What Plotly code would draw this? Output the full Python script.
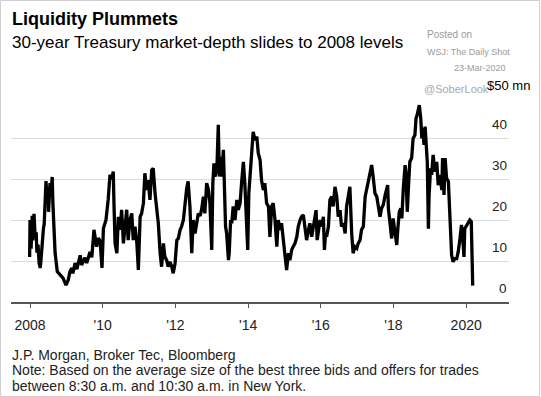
import plotly.graph_objects as go

# ---- data ----
years = [
    2007.99, 2008.00, 2008.03, 2008.06, 2008.08, 2008.11, 2008.14, 2008.17, 2008.19, 2008.22,
    2008.25, 2008.28, 2008.30, 2008.33, 2008.37, 2008.39, 2008.41, 2008.44, 2008.47, 2008.50,
    2008.51, 2008.54, 2008.55, 2008.58, 2008.61, 2008.63, 2008.69, 2008.75, 2008.83, 2008.91,
    2008.99, 2009.05, 2009.10, 2009.15, 2009.18, 2009.24, 2009.29, 2009.38, 2009.42, 2009.51,
    2009.56, 2009.65, 2009.70, 2009.76, 2009.83, 2009.88, 2009.93, 2009.98, 2010.02, 2010.09,
    2010.15, 2010.20, 2010.25, 2010.29, 2010.31, 2010.34, 2010.39, 2010.43, 2010.48, 2010.52,
    2010.57, 2010.61, 2010.66, 2010.70, 2010.75, 2010.80, 2010.84, 2010.89, 2010.94, 2010.98,
    2011.03, 2011.07, 2011.12, 2011.16, 2011.21, 2011.25, 2011.30, 2011.35, 2011.39, 2011.44,
    2011.49, 2011.53, 2011.58, 2011.62, 2011.67, 2011.71, 2011.76, 2011.80, 2011.85, 2011.90,
    2011.94, 2011.99, 2012.04, 2012.08, 2012.13, 2012.17, 2012.22, 2012.26, 2012.31, 2012.35,
    2012.40, 2012.45, 2012.49, 2012.54, 2012.59, 2012.63, 2012.68, 2012.72, 2012.77, 2012.81,
    2012.86, 2012.91, 2012.95, 2013.00, 2013.03, 2013.06, 2013.09, 2013.14, 2013.18, 2013.21,
    2013.25, 2013.27, 2013.32, 2013.35, 2013.38, 2013.41, 2013.46, 2013.48, 2013.52, 2013.55,
    2013.59, 2013.64, 2013.69, 2013.73, 2013.78, 2013.82, 2013.87, 2013.91, 2013.96, 2013.99,
    2014.02, 2014.05, 2014.10, 2014.14, 2014.19, 2014.24, 2014.28, 2014.33, 2014.37, 2014.42,
    2014.46, 2014.51, 2014.56, 2014.60, 2014.65, 2014.69, 2014.74, 2014.79, 2014.83, 2014.88,
    2014.92, 2014.97, 2015.02, 2015.06, 2015.11, 2015.15, 2015.20, 2015.24, 2015.29, 2015.34,
    2015.38, 2015.43, 2015.47, 2015.52, 2015.57, 2015.61, 2015.66, 2015.70, 2015.75, 2015.79,
    2015.84, 2015.87, 2015.90, 2015.93, 2015.98, 2016.03, 2016.07, 2016.10, 2016.13, 2016.16,
    2016.21, 2016.25, 2016.30, 2016.34, 2016.39, 2016.44, 2016.48, 2016.53, 2016.57, 2016.62,
    2016.67, 2016.71, 2016.76, 2016.80, 2016.85, 2016.89, 2016.94, 2016.99, 2017.03, 2017.08,
    2017.12, 2017.17, 2017.22, 2017.26, 2017.31, 2017.35, 2017.40, 2017.44, 2017.49, 2017.54,
    2017.58, 2017.63, 2017.67, 2017.72, 2017.77, 2017.81, 2017.84, 2017.86, 2017.90, 2017.95,
    2017.99, 2018.04, 2018.09, 2018.12, 2018.16, 2018.20, 2018.23, 2018.27, 2018.32, 2018.34,
    2018.38, 2018.41, 2018.45, 2018.50, 2018.54, 2018.59, 2018.62, 2018.65, 2018.68, 2018.71,
    2018.75, 2018.78, 2018.80, 2018.84, 2018.87, 2018.89, 2018.93, 2018.96, 2018.98, 2019.02,
    2019.05, 2019.09, 2019.14, 2019.19, 2019.23, 2019.28, 2019.33, 2019.35, 2019.39, 2019.42,
    2019.46, 2019.51, 2019.55, 2019.60, 2019.64, 2019.69, 2019.74, 2019.78, 2019.83, 2019.87,
    2019.90, 2019.94, 2019.96, 2020.01, 2020.05, 2020.10, 2020.14, 2020.18,
]
depth_mn = [
    11, 20, 13, 21, 15, 21.5, 16, 17, 12, 14,
    9.5, 8.3, 10, 14, 18, 19, 26, 29.5, 25, 28,
    22, 27, 29, 26, 30.5, 24, 12, 7.4, 6.6, 5.8,
    4.1, 5.3, 7.5, 8.3, 7, 9.5, 8, 11.4, 9, 10.8,
    9.5, 12.2, 10.9, 17.6, 13.5, 15.6, 14.8, 8.3, 18, 20,
    24.9, 31, 30, 31.8, 24, 14.3, 11.9, 20.8, 17.6, 22.5,
    14.3, 19.2, 22.5, 15.1, 20, 21.6, 15.1, 18.4, 14.3, 7.8,
    20.8, 21.6, 24.1, 31.4, 27.3, 29.7, 24.9, 32.2, 32.6, 26.5,
    21.6, 19.2, 11.9, 8.6, 14.3, 11, 10.2, 8.6, 9.8, 8.6,
    7.0, 9.4, 15.1, 15.5, 17.6, 18.4, 20, 24.1, 27.7, 29.4,
    23.3, 11.9, 20, 16.7, 20, 21.6, 21, 22.5, 25.7, 21.6,
    29, 27.3, 24.1, 12.7, 29, 33.8, 30.6, 32.2, 43.2, 30.6,
    35.4, 30.6, 37.1, 29.7, 18.4, 16.7, 10.2, 11.9, 20, 19.2,
    23.3, 20, 24.9, 22.5, 24.1, 29, 34.2, 29, 19.2, 12.7,
    26.5, 30.6, 37.9, 41.5, 39.5, 40.3, 36.3, 34.6, 29.7, 27.3,
    29, 24.1, 23.3, 15.9, 23.3, 24.1, 20, 13.5, 20, 17.6,
    19.2, 14.3, 11, 7.8, 11.9, 10.2, 12.7, 13.5, 14.3, 15.9,
    18.4, 20, 20.8, 21.2, 18.4, 15.1, 17.6, 19.2, 15.9, 18.4,
    21.6, 22.4, 15.1, 17.6, 20, 18.4, 20.8, 12.7, 16.7, 15.9,
    18.4, 24.9, 25.7, 23.3, 28.1, 25.7, 20.8, 22.4, 18.4, 19.2,
    16.7, 23.3, 26.5, 28.1, 16.7, 11.9, 13.5, 13.1, 14.3, 15.1,
    17.6, 18.4, 25.7, 27.3, 29, 30.6, 33.4, 30.6, 26.5, 25.7,
    23.3, 20.8, 22.8, 23.7, 26.1, 27.3, 28.5, 22.8, 19.6, 15.5,
    20.4, 17.1, 13.9, 17.9, 22, 22.8, 20.4, 27.7, 33.4, 31.8,
    22, 27.7, 34.2, 35.1, 39.9, 40.7, 44.8, 45.6, 47.2, 48,
    44.8, 39.9, 42.4, 38.3, 42.8, 39.9, 34.2, 17.9, 26.1, 32.6,
    31, 35.9, 31.8, 34.2, 28.5, 31, 27.3, 35.1, 26.1, 35.1,
    30.2, 29.4, 19.6, 11.4, 9.8, 10.6, 10.6, 12.2, 15.5, 18.8,
    16.3, 11, 17.9, 18.8, 19.2, 20, 19.6, 4.0,
]

x_tickvals = [2008, 2010, 2012, 2014, 2016, 2018, 2020]
x_ticktext = ["2008", "'10", "'12", "'14", "'16", "'18", "2020"]
y_tickvals = [0, 10, 20, 30, 40]
y_ticktext = ["0", "10", "20", "30", "40"]
y_top_value = 50
y_top_text = "$50 mn"

title = "Liquidity Plummets"
subtitle = "30-year Treasury market-depth slides to 2008 levels"
footer = [
    "J.P. Morgan, Broker Tec, Bloomberg",
    "Note: Based on the average size of the best three bids and offers for trades",
    "between 8:30 a.m. and 10:30 a.m. in New York.",
]

# ---- layout geometry (pixels) ----
W, H = 541, 397
PL, PR, PT, PB = 11, 509, 97, 302
FONT = "Liberation Sans, Arial, sans-serif"


def px(xp):
    return (xp - PL) / (PR - PL)


def py(yp):
    return (PB - yp) / (PB - PT)


fig = go.Figure()
fig.add_trace(go.Scatter(
    x=years, y=depth_mn, mode="lines",
    line=dict(color="#000000", width=3.3, shape="linear"),
    hoverinfo="skip", showlegend=False,
))

ann = []


def text(t, xp, yp, size, color, anchor="left"):
    ann.append(dict(text=t, x=px(xp), y=py(yp), xref="paper", yref="paper",
                    xanchor=anchor, yanchor="middle", showarrow=False,
                    font=dict(family=FONT, size=size, color=color)))


text("<b>" + title + "</b>", 10, 19, 18, "#000000")
text(subtitle, 10, 42, 17, "#000000")
text("Posted on", 425, 35, 10, "#9a9a9a")
text("WSJ: The Daily Shot", 425, 52, 9, "#9a9a9a")
text("23-Mar-2020", 508, 68, 9, "#9a9a9a", anchor="right")
text("@SoberLook", 422, 89, 11, "#a8a8a8")

for v, t in zip(y_tickvals, y_ticktext):
    ann.append(dict(text=t, x=1, y=v, xref="paper", yref="y", xanchor="right",
                    yanchor="middle", yshift=14, showarrow=False,
                    font=dict(family=FONT, size=13.5, color="#222222")))
ann.append(dict(text=y_top_text, x=px(485), y=y_top_value, xref="paper", yref="y",
                xanchor="left", yanchor="middle", yshift=12, showarrow=False,
                font=dict(family=FONT, size=13, color="#000000")))

for i, line in enumerate(footer):
    text(line, 10, 354.5 + 15.8 * i, 14, "#222222")

fig.update_layout(
    width=W, height=H,
    margin=dict(l=PL, r=W - PR, t=PT, b=H - PB, pad=0),
    paper_bgcolor="#ffffff", plot_bgcolor="#ffffff",
    annotations=ann,
    showlegend=False,
    xaxis=dict(
        range=[2007.477, 2021.178], tickvals=x_tickvals, ticktext=x_ticktext,
        showgrid=False, zeroline=False, showline=True, linecolor="#555555",
        linewidth=1.5, ticks="outside", ticklen=4, tickwidth=1, tickcolor="#555555",
        tickfont=dict(family=FONT, size=14, color="#222222"),
        ticklabelstandoff=5, fixedrange=True,
    ),
    yaxis=dict(
        range=[0, 50], tickvals=y_tickvals + [y_top_value], showticklabels=False,
        showgrid=True, gridcolor="#dcdcdc", gridwidth=1, zeroline=False,
        showline=False, fixedrange=True,
    ),
    shapes=[dict(type="rect", xref="paper", yref="paper",
                 x0=px(0.5), x1=px(539.5), y0=py(396.5), y1=py(0.5),
                 line=dict(color="#d0d0d0", width=1), layer="below")],
)

fig.write_html(
    "out.html",
    config={"displayModeBar": False},
    post_script="document.body.style.margin='0';document.body.style.overflow='hidden';",
)
